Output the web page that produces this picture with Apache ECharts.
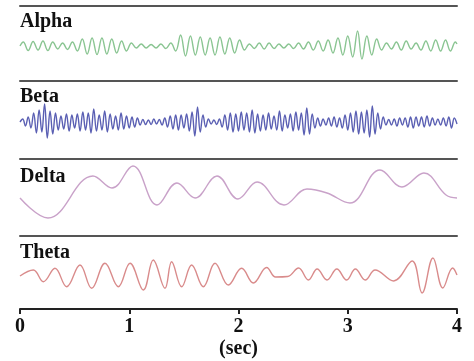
<!DOCTYPE html>
<html><head><meta charset="utf-8">
<script src="https://cdn.jsdelivr.net/npm/echarts@6/dist/echarts.min.js"></script>
<style>html,body{margin:0;padding:0;background:#fff}#c{width:474px;height:361px}</style>
</head><body><div id="c"></div>
<script>
// Band names (top to bottom)
var bandNames = ['Alpha', 'Beta', 'Delta', 'Theta'];
var tickLabels = ['0', '1', '2', '3', '4'];
var axisName = '(sec)';

// [time (s), amplitude] (peaks / troughs)
var alpha = [[0,0],[0.03,4],[0.075,-4.5],[0.12,4.5],[0.165,-4],[0.21,5],[0.255,-4.5],[0.3,4],[0.345,-3],[0.39,3],[0.435,-3.5],[0.48,4],[0.525,-5],[0.57,7],[0.615,-8],[0.66,8],[0.705,-8.5],[0.75,8],[0.795,-8],[0.84,7],[0.885,-7],[0.93,5],[0.975,-5],[1.02,3],[1.065,-2],[1.11,2],[1.155,-2],[1.2,1.5],[1.245,-2],[1.29,2],[1.335,-2.5],[1.38,3],[1.425,-5],[1.47,11],[1.515,-10],[1.56,10],[1.605,-9],[1.65,9],[1.695,-9],[1.74,8],[1.785,-9],[1.83,9],[1.875,-8],[1.92,8],[1.965,-7],[2.01,6],[2.055,-4],[2.1,2],[2.145,-2.5],[2.19,3],[2.235,-3],[2.28,3],[2.325,-2.5],[2.37,2],[2.415,-2],[2.46,2],[2.505,-2.5],[2.55,3],[2.595,-3],[2.64,4],[2.685,-4],[2.73,5],[2.775,-5],[2.82,6],[2.865,-7],[2.91,8],[2.955,-9],[3.0,10],[3.045,-11],[3.09,15],[3.13,-13],[3.175,10],[3.22,-9],[3.265,7],[3.31,-4],[3.355,3],[3.4,-3],[3.445,4],[3.49,-4],[3.535,5],[3.58,-3],[3.625,3],[3.67,-4],[3.715,5],[3.76,-5],[3.805,6],[3.85,-5],[3.895,6],[3.94,-5],[3.985,4],[4.0,2]];

var beta = [[0,0],[0.025,3],[0.05,-4],[0.075,5],[0.1,-6],[0.125,9],[0.15,-11],[0.175,12],[0.2,-10],[0.225,18],[0.25,-16],[0.275,11],[0.3,-12],[0.325,9],[0.35,-8],[0.375,6],[0.4,-7],[0.425,8],[0.45,-9],[0.475,7],[0.5,-6],[0.525,8],[0.55,-9],[0.575,10],[0.6,-8],[0.625,9],[0.65,-11],[0.675,13],[0.7,-9],[0.725,7],[0.75,-8],[0.775,11],[0.8,-10],[0.825,8],[0.85,-7],[0.875,6],[0.9,-8],[0.925,9],[0.95,-7],[0.975,6],[1.0,-6],[1.025,5],[1.05,-5],[1.075,4],[1.1,-3],[1.125,2.5],[1.15,-2.5],[1.175,2],[1.2,-2.5],[1.225,3],[1.25,-2],[1.275,2.5],[1.3,-3],[1.325,4],[1.35,-5],[1.375,6],[1.4,-7],[1.425,7],[1.45,-8],[1.475,7],[1.5,-6],[1.525,8],[1.55,-9],[1.575,10],[1.6,-14],[1.625,15],[1.65,-10],[1.675,7],[1.7,-5],[1.725,3],[1.75,-2],[1.775,2],[1.8,-2.5],[1.825,3],[1.85,-5],[1.875,7],[1.9,-8],[1.925,9],[1.95,-10],[1.975,8],[2.0,-9],[2.025,10],[2.05,-8],[2.075,9],[2.1,-10],[2.125,12],[2.15,-11],[2.175,8],[2.2,-9],[2.225,7],[2.25,-8],[2.275,9],[2.3,-7],[2.325,6],[2.35,-8],[2.375,11],[2.4,-9],[2.425,7],[2.45,-6],[2.475,8],[2.5,-9],[2.525,10],[2.55,-8],[2.575,9],[2.6,-13],[2.625,14],[2.65,-12],[2.675,8],[2.7,-6],[2.725,4],[2.75,-4],[2.775,3],[2.8,-3],[2.825,4],[2.85,-4],[2.875,5],[2.9,-5],[2.925,4],[2.95,-6],[2.975,7],[3.0,-8],[3.025,9],[3.05,-10],[3.075,11],[3.1,-12],[3.125,10],[3.15,-11],[3.175,12],[3.2,-15],[3.225,16],[3.25,-12],[3.275,9],[3.3,-7],[3.325,5],[3.35,-3],[3.375,2.5],[3.4,-3],[3.425,3],[3.45,-4],[3.475,4],[3.5,-3],[3.525,4],[3.55,-5],[3.575,5],[3.6,-6],[3.625,5],[3.65,-4],[3.675,5],[3.7,-5],[3.725,6],[3.75,-4],[3.775,4],[3.8,-3],[3.825,3],[3.85,-3],[3.875,4],[3.9,-4],[3.925,5],[3.95,-6],[3.975,4],[4.0,-2]];

var delta = [[0,-6],[0.256,-26],[0.668,16],[0.842,4],[1.034,26],[1.254,-13],[1.437,9],[1.602,-6],[1.803,16],[1.995,-7],[2.17,10],[2.416,-13],[2.627,3],[2.81,-1],[3.02,-11],[3.295,22],[3.496,5],[3.697,19],[3.9,-3],[4.0,-6]];

var theta = [[0,-1],[0.122,5],[0.214,-6.7],[0.32,6.7],[0.427,-11.7],[0.549,10],[0.656,-13.3],[0.778,11.7],[0.9,-11.7],[1.007,11.7],[1.129,-15],[1.22,15],[1.327,-13.3],[1.388,13.3],[1.48,-11.7],[1.571,10],[1.678,-11.7],[1.785,11.7],[1.907,-10],[2.029,6.7],[2.136,-8],[2.258,7.5],[2.34,-2],[2.45,-1.5],[2.55,7],[2.64,-5],[2.72,6],[2.81,-5],[2.9,6],[2.99,-5],[3.07,6],[3.16,-5],[3.25,5],[3.42,-6],[3.59,14],[3.68,-18],[3.78,17],[3.87,-13],[3.96,7],[4.0,0]];

var waveData = [alpha, beta, delta, theta];
var waveColors = ['#8ac592', '#5a5fb3', '#c9a2c9', '#d98b8b'];

var serif = "'Liberation Serif', 'Times New Roman', serif";
var grids = [
  {left: 20, right: 17, top: 6, height: 75},
  {left: 20, right: 17, top: 81, height: 78},
  {left: 20, right: 17, top: 159, height: 77},
  {left: 20, right: 17, top: 236, height: 73}
];
var yRanges = [[-35, 40], [-37, 41], [-44, 33], [-34, 39]];
var titleTops = [12, 87, 167, 243];

var xAxes = [], yAxes = [], series = [], titles = [];
for (var i = 0; i < 4; i++) {
  xAxes.push({
    type: 'value', gridIndex: i, position: 'top', min: 0, max: 4, interval: 1,
    axisLine: {show: true, onZero: false, lineStyle: {color: '#555', width: 2}},
    axisTick: {show: false}, axisLabel: {show: false}, splitLine: {show: false}
  });
  yAxes.push({type: 'value', gridIndex: i, min: yRanges[i][0], max: yRanges[i][1], show: false});
  series.push({
    type: 'line', xAxisIndex: i, yAxisIndex: i, data: waveData[i], smooth: 0.4,
    showSymbol: false, lineStyle: {color: waveColors[i], width: 1.4}, silent: true, animation: false
  });
  titles.push({
    text: bandNames[i], left: 20, top: titleTops[i], padding: 0,
    textStyle: {fontFamily: serif, fontWeight: 'bold', fontSize: 20, color: '#111'}
  });
}
xAxes.push({
  type: 'value', gridIndex: 3, position: 'bottom', min: 0, max: 4, interval: 1,
  name: axisName, nameLocation: 'middle', nameGap: 30,
  nameTextStyle: {fontFamily: serif, fontWeight: 'bold', fontSize: 20, color: '#111'},
  axisLine: {show: true, onZero: false, lineStyle: {color: '#222', width: 2}},
  axisTick: {show: true, length: 5, lineStyle: {color: '#222', width: 2}},
  axisLabel: {
    margin: 8, fontFamily: serif, fontWeight: 'bold', fontSize: 20, color: '#111',
    formatter: function (v) { return tickLabels[Math.round(v)]; }
  },
  splitLine: {show: false}
});

var chart = echarts.init(document.getElementById('c'), null, {renderer: 'canvas'});
chart.setOption({
  animation: false,
  backgroundColor: '#fff',
  title: titles,
  grid: grids,
  xAxis: xAxes,
  yAxis: yAxes,
  series: series
});
</script>
</body></html>
